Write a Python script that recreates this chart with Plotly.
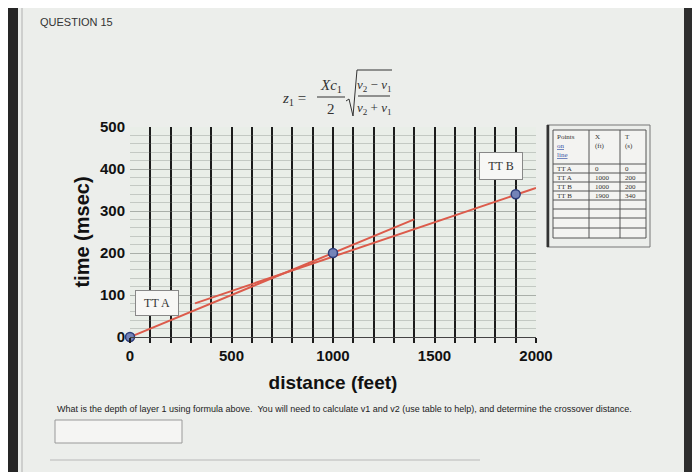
import plotly.graph_objects as go

# readings from the table / graph (distance in ft, time in msec)
point_x = [0, 1000, 1900]
point_t = [0, 200, 340]

tta_line_x = [0, 1400]
tta_line_t = [0, 280]
ttb_line_x = [320, 2000]
ttb_line_t = [80, 355]

x_ticks = [0, 500, 1000, 1500, 2000]
y_ticks = [0, 100, 200, 300, 400, 500]

table_header = ["Points<br><span style='color:#3b56a8'><u>on</u></span><br>"
                "<span style='color:#3b56a8'><u>line</u></span>", "X<br>(ft)", "T<br>(s)"]
table_points = ["TT A", "TT A", "TT B", "TT B"]
table_x = ["0", "1000", "1000", "1900"]
table_t = ["0", "200", "200", "340"]

question = ("What is the depth of layer 1 using formula above.  You will need to calculate v1 and v2 "
            "(use table to help), and determine the crossover distance.")

# page body adds an 8px offset, so the figure is laid out in screen pixels minus 8
OFF = 8
W, H = 700 - OFF, 472 - OFF
L = 130 - OFF          # plot left edge on screen: 130
T = 127 - OFF          # plot top on screen: 127
B = H - (337 - OFF)    # plot bottom on screen: 337
R = W - (536 - OFF)    # plot right edge on screen: 536
PW, PH = W - L - R, H - T - B


def px(x):
    return (x - OFF - L) / PW


def py(y):
    return (H - B - (y - OFF)) / PH


SANS = "Arial, Liberation Sans, sans-serif"
SERIF = "Times New Roman, Liberation Serif, serif"
RED = "#dc5b4b"
INK = "#333"

fig = go.Figure()

fig.add_trace(go.Scatter(x=tta_line_x, y=tta_line_t, mode="lines",
                         line=dict(color=RED, width=2), showlegend=False))
fig.add_trace(go.Scatter(x=ttb_line_x, y=ttb_line_t, mode="lines",
                         line=dict(color=RED, width=2), showlegend=False))
fig.add_trace(go.Scatter(x=point_x, y=point_t, mode="markers", cliponaxis=False,
                         marker=dict(size=9, color="#7483b8", line=dict(color="#2e3d7a", width=1.5)),
                         showlegend=False))

shapes = [
    # frame around table
    dict(type="rect", x0=px(547), x1=px(650), y0=py(247), y1=py(125),
         line=dict(color="#777", width=1)),
    dict(type="rect", x0=px(553), x1=px(646), y0=py(238), y1=py(130),
         line=dict(color="#555", width=1), fillcolor="#f3f3f1"),
    dict(type="line", x0=px(548), x1=px(548), y0=py(247), y1=py(125),
         line=dict(color="#333", width=2.5)),
    # answer box
    dict(type="rect", x0=px(55), x1=px(182), y0=py(443), y1=py(420),
         line=dict(color="#999", width=1), fillcolor="#f5f5f3"),
    # screen bezel edges
    dict(type="rect", x0=px(0), x1=px(18), y0=py(480), y1=py(0),
         line=dict(width=0), fillcolor="#262626"),
    dict(type="rect", x0=px(684), x1=px(700), y0=py(480), y1=py(0),
         line=dict(width=0), fillcolor="#2e2e2e"),
    dict(type="line", x0=px(22), x1=px(22), y0=py(480), y1=py(0),
         line=dict(color="#b0b0b0", width=1)),
    dict(type="line", x0=px(50), x1=px(480), y0=py(460), y1=py(460),
         line=dict(color="#b8b8b8", width=1)),
    # formula: fraction bars and radical
    dict(type="line", x0=px(317), x1=px(345), y0=py(97), y1=py(97),
         line=dict(color=INK, width=1)),
    dict(type="path",
         path="M {} {} L {} {} L {} {} L {} {} L {} {}".format(
             px(346), py(101), px(349), py(99), px(353), py(116), px(357), py(70), px(392), py(70)),
         line=dict(color=INK, width=1)),
    dict(type="line", x0=px(358), x1=px(390), y0=py(96), y1=py(96),
         line=dict(color=INK, width=1)),
]

# table rules
col_edges = [553, 589, 620, 646]
row_edges = [130, 164, 173, 182, 191, 200, 209, 218, 228, 238]
for c in col_edges[1:-1]:
    shapes.append(dict(type="line", x0=px(c), x1=px(c), y0=py(row_edges[-1]), y1=py(row_edges[0]),
                       line=dict(color="#555", width=1)))
for r in row_edges[1:-1]:
    shapes.append(dict(type="line", x0=px(col_edges[0]), x1=px(col_edges[-1]), y0=py(r), y1=py(r),
                       line=dict(color="#555", width=1)))
for s in shapes:
    s["xref"] = "paper"
    s["yref"] = "paper"

annotations = [
    dict(text="QUESTION 15", x=px(38), y=py(22), xanchor="left",
         font=dict(family=SANS, size=11, color=INK)),
    dict(text="<i>z</i><sub>1</sub> =", x=px(294), y=py(99), font=dict(family=SERIF, size=15, color=INK)),
    dict(text="<i>Xc</i><sub>1</sub>", x=px(331), y=py(86), font=dict(family=SERIF, size=15, color=INK)),
    dict(text="2", x=px(331), y=py(109), font=dict(family=SERIF, size=15, color=INK)),
    dict(text="<i>v</i><sub>2</sub> − <i>v</i><sub>1</sub>", x=px(374), y=py(85),
         font=dict(family=SERIF, size=13, color=INK)),
    dict(text="<i>v</i><sub>2</sub> + <i>v</i><sub>1</sub>", x=px(374), y=py(108),
         font=dict(family=SERIF, size=13, color=INK)),
    dict(text="TT A", x=135, y=82, xref="x", yref="y", width=40, height=22,
         bgcolor="#f7f7f5", bordercolor="#888", borderwidth=1,
         font=dict(family=SERIF, size=12, color=INK)),
    dict(text="TT B", x=1830, y=406, xref="x", yref="y", width=40, height=24,
         bgcolor="#f7f7f5", bordercolor="#888", borderwidth=1,
         font=dict(family=SERIF, size=12, color=INK)),
    dict(text=question, x=px(55), y=py(409), xanchor="left",
         font=dict(family=SANS, size=9, color="#222")),
]

# table text
col_text_x = [556, 594, 624]
for cx, head in zip(col_text_x, table_header):
    annotations.append(dict(text=head, x=px(cx), y=py(132), xanchor="left", yanchor="top",
                            align="left", borderpad=0, font=dict(family=SERIF, size=7, color=INK)))
for i, (p, xv, tv) in enumerate(zip(table_points, table_x, table_t)):
    yc = py((row_edges[i + 1] + row_edges[i + 2]) / 2)
    for cx, val in zip(col_text_x, [p, xv, tv]):
        annotations.append(dict(text=val, x=px(cx), y=yc, xanchor="left", borderpad=0,
                                font=dict(family=SERIF, size=7, color=INK)))

for a in annotations:
    a.setdefault("xref", "paper")
    a.setdefault("yref", "paper")
    a.setdefault("xanchor", "center")
    a.setdefault("yanchor", "middle")
    a["showarrow"] = False

fig.update_layout(
    width=W, height=H,
    margin=dict(l=L, r=R, t=T, b=B, autoexpand=False),
    paper_bgcolor="#eceeeb",
    plot_bgcolor="#e9eee8",
    shapes=shapes,
    annotations=annotations,
    xaxis=dict(
        range=[0, 2000], tickvals=x_ticks,
        showgrid=True, gridcolor="#1c1c1c", gridwidth=2,
        minor=dict(dtick=100, showgrid=True, gridcolor="#1c1c1c", gridwidth=2,
                   ticks="outside", ticklen=5, tickcolor="#1c1c1c", tickwidth=2),
        ticks="outside", ticklen=5, tickcolor="#1c1c1c", tickwidth=2,
        showline=True, linecolor="#444", linewidth=1, zeroline=False,
        tickfont=dict(family=SANS, size=15, color="#111", weight="bold"),
        title=dict(text="distance (feet)", standoff=12,
                   font=dict(family=SANS, size=19, color="#111", weight="bold")),
    ),
    yaxis=dict(
        range=[0, 500], tickvals=y_ticks,
        showgrid=True, gridcolor="rgba(110,115,110,0.3)", gridwidth=1,
        minor=dict(dtick=20, showgrid=True, gridcolor="rgba(110,115,110,0.3)", gridwidth=1),
        zeroline=False, showline=False,
        ticklabelstandoff=4,
        tickfont=dict(family=SANS, size=15, color="#111", weight="bold"),
        title=dict(text="time (msec)", standoff=4,
                   font=dict(family=SANS, size=20, color="#111", weight="bold")),
    ),
)

fig.write_html("out.html")
